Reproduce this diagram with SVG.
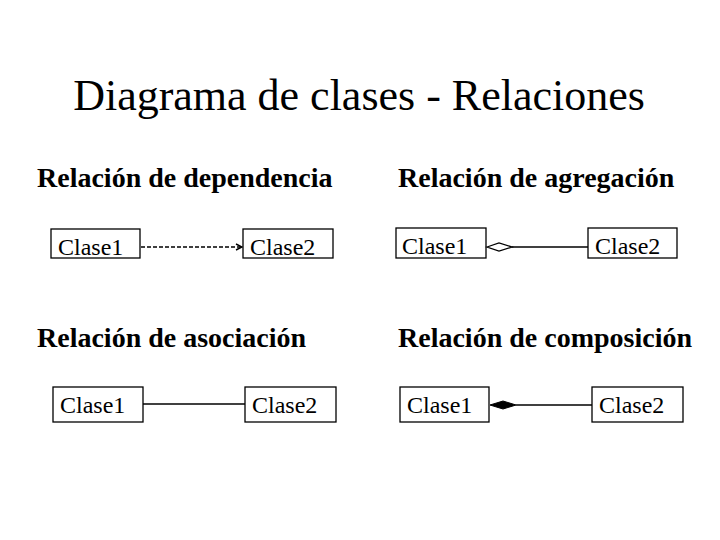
<svg xmlns="http://www.w3.org/2000/svg" width="720" height="540" viewBox="0 0 720 540">
<style>
.title{font-family:"Liberation Serif","Times New Roman",Times,"DejaVu Serif",serif;font-size:44px;font-weight:normal;fill:#000}
.head{font-family:"Liberation Serif","Times New Roman",Times,"DejaVu Serif",serif;font-size:28px;font-weight:bold;fill:#000}
.lbl{font-family:"Liberation Serif","Times New Roman",Times,"DejaVu Serif",serif;font-size:24px;font-weight:normal;fill:#000}
.box{fill:#fff;stroke:#000;stroke-width:1.3}
.ln{stroke:#000;stroke-width:1.3;fill:none}
</style>
<defs>
<marker id="arr" markerWidth="8" markerHeight="8" refX="7" refY="4" orient="auto" markerUnits="userSpaceOnUse">
<path d="M1,1 L7,4 L1,7" fill="none" stroke="#000" stroke-width="1.5"/>
</marker>
</defs>
<rect width="720" height="540" fill="#fff"/>
<text class="title" x="359" y="110" text-anchor="middle">Diagrama de clases - Relaciones</text>
<text class="head" x="37" y="187">Relación de dependencia</text>
<text class="head" x="398" y="187">Relación de agregación</text>
<text class="head" x="37" y="347">Relación de asociación</text>
<text class="head" x="398" y="347">Relación de composición</text>

<g id="dep-clase1"><rect class="box" x="51" y="229" width="89" height="29"/><text class="lbl" x="58" y="255">Clase1</text></g>
<g id="dep-clase2"><rect class="box" x="243" y="229" width="90" height="29"/><text class="lbl" x="250" y="255">Clase2</text></g>
<g id="agr-clase1"><rect class="box" x="396" y="228" width="90" height="30"/><text class="lbl" x="402" y="254">Clase1</text></g>
<g id="agr-clase2"><rect class="box" x="588" y="228" width="89" height="30"/><text class="lbl" x="595" y="254">Clase2</text></g>
<g id="aso-clase1"><rect class="box" x="53" y="387" width="90" height="35"/><text class="lbl" x="60" y="413">Clase1</text></g>
<g id="aso-clase2"><rect class="box" x="245" y="387" width="91" height="35"/><text class="lbl" x="252" y="413">Clase2</text></g>
<g id="com-clase1"><rect class="box" x="400" y="387" width="89" height="35"/><text class="lbl" x="407" y="413">Clase1</text></g>
<g id="com-clase2"><rect class="box" x="592" y="387" width="91" height="35"/><text class="lbl" x="599" y="413">Clase2</text></g>

<g id="connectors">
<line class="ln" x1="141" y1="247" x2="242" y2="247" stroke-width="1.6" stroke-dasharray="4,2" marker-end="url(#arr)"/>
<path class="ln" d="M487,247 L499,243 L512,247 L499,251 Z" fill="#fff"/>
<line class="ln" x1="512" y1="247" x2="588" y2="247"/>
<line class="ln" x1="143" y1="404" x2="245" y2="404"/>
<path d="M490,405 L503,401 L516,405 L503,409 Z" fill="#000" stroke="#000" stroke-width="1"/>
<line class="ln" x1="516" y1="405" x2="592" y2="405"/>
</g>
</svg>
